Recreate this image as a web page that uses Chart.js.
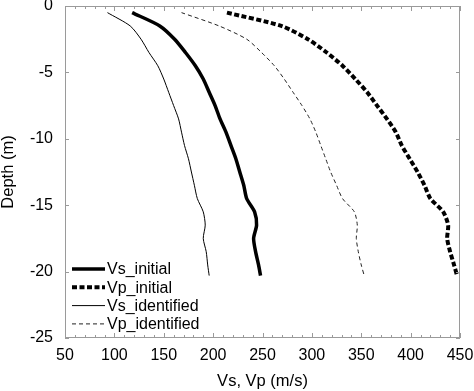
<!DOCTYPE html>
<html>
<head>
<meta charset="utf-8">
<script src="https://cdn.jsdelivr.net/npm/chart.js@4.4.1/dist/chart.umd.min.js"></script>
<style>
  html, body { margin: 0; padding: 0; background: #fff; }
</style>
</head>
<body>
<canvas id="myChart" width="474" height="391"></canvas>
<script>
// depth of each point (m) and velocity profiles (m/s)
const depth        = [-0.5, -1.5, -2.5, -3.5, -4.5, -5.5, -6.5, -7.5, -8.5, -9.5, -10.5, -11.5, -12.5, -13.5, -14.5, -15.5, -16.5, -17.5, -18.5, -19.5, -20.3];
const vsInitial    = [118, 146, 161, 172, 182, 190, 196, 202, 207, 213, 218, 223, 227, 231, 234, 242, 244, 241, 243, 246, 248];
const vpInitial    = [214, 269, 296, 315, 331, 344, 356, 366, 376, 385, 391, 399, 407, 414, 420, 433, 438, 437, 440, 444, 447];
const vsIdentified = [93, 116, 127, 135, 144, 150, 155, 160, 165, 168, 171, 175, 178, 181, 184, 190, 192, 190, 193, 194.5, 196];
const vpIdentified = [168, 206, 234, 249, 262, 272, 281, 290, 298, 304, 309, 314, 319, 325, 331, 343, 346, 345, 347, 350, 353];

const seriesLabels = ['Vs_initial', 'Vp_initial', 'Vs_identified', 'Vp_identified'];

const FONT = '"Liberation Sans", Arial, sans-serif';

function toPoints(values) {
    return values.map((v, i) => ({ x: v, y: depth[i] }));
}

// gray box round the plot with small inward ticks
const framePlugin = {
    id: 'frame',
    afterDatasetsDraw(chart) {
        const { ctx, chartArea: a, scales: { x, y } } = chart;
        ctx.save();
        ctx.strokeStyle = '#9a9a9a';
        ctx.lineWidth = 1;
        ctx.strokeRect(a.left + 0.5, a.top + 0.5, a.width - 1, a.height - 1);
        ctx.beginPath();
        for (let v = x.min; v <= x.max; v += 10) {
            const px = Math.round(x.getPixelForValue(v)) + 0.5;
            const len = v % 50 === 0 ? 5 : 3;
            ctx.moveTo(px, a.bottom); ctx.lineTo(px, a.bottom - len);
            ctx.moveTo(px, a.top); ctx.lineTo(px, a.top + len);
        }
        for (let v = y.max; v >= y.min; v -= 5) {
            const py = Math.round(y.getPixelForValue(v)) + 0.5;
            ctx.moveTo(a.left, py); ctx.lineTo(a.left + 4, py);
            ctx.moveTo(a.right, py); ctx.lineTo(a.right - 4, py);
        }
        ctx.stroke();
        ctx.restore();
    }
};

// legend drawn inside the lower left corner of the plot
const insideLegend = {
    id: 'insideLegend',
    afterDraw(chart) {
        const { ctx, chartArea: a } = chart;
        ctx.save();
        ctx.font = '16px ' + FONT;
        ctx.textBaseline = 'middle';
        chart.data.datasets.forEach((ds, i) => {
            const yy = a.bottom - 69 + i * 18.3;
            ctx.strokeStyle = ds.borderColor;
            ctx.lineWidth = ds.borderWidth;
            ctx.setLineDash(ds.borderDash || []);
            ctx.beginPath();
            ctx.moveTo(a.left + 7, yy);
            ctx.lineTo(a.left + 40, yy);
            ctx.stroke();
            ctx.setLineDash([]);
            ctx.fillStyle = '#000';
            ctx.fillText(ds.label, a.left + 42, yy + 1);
        });
        ctx.restore();
    }
};

const ctx = document.getElementById('myChart').getContext('2d');
new Chart(ctx, {
    type: 'line',
    data: {
        datasets: [{
            label: seriesLabels[0],
            data: toPoints(vsInitial),
            borderColor: '#000',
            borderWidth: 3.5
        }, {
            label: seriesLabels[1],
            data: toPoints(vpInitial),
            borderColor: '#000',
            borderWidth: 4,
            borderDash: [5, 2.5]
        }, {
            label: seriesLabels[2],
            data: toPoints(vsIdentified),
            borderColor: '#000',
            borderWidth: 1
        }, {
            label: seriesLabels[3],
            data: toPoints(vpIdentified),
            borderColor: '#222',
            borderWidth: 1,
            borderDash: [4, 3]
        }]
    },
    options: {
        responsive: false,
        animation: false,
        layout: { padding: 0 },
        elements: { point: { radius: 0 }, line: { tension: 0.25, fill: false } },
        plugins: { legend: { display: false }, tooltip: { enabled: false } },
        scales: {
            x: {
                type: 'linear',
                min: 50,
                max: 450,
                grid: { display: false, drawTicks: false },
                border: { display: false },
                ticks: { stepSize: 50, padding: 8, color: '#000', font: { family: FONT, size: 16 } },
                title: {
                    display: true,
                    text: 'Vs, Vp (m/s)',
                    color: '#000',
                    font: { family: FONT, size: 16.5 },
                    padding: { top: 7, bottom: 0 }
                },
                afterFit(scale) {
                    scale.height = 53;
                    scale.paddingLeft = 0;
                    scale.paddingRight = 14;
                }
            },
            y: {
                type: 'linear',
                min: -25,
                max: 0,
                grid: { display: false, drawTicks: false },
                border: { display: false },
                ticks: { stepSize: 5, padding: 12, color: '#000', font: { family: FONT, size: 16 } },
                title: {
                    display: true,
                    text: 'Depth (m)',
                    color: '#000',
                    font: { family: FONT, size: 16.5, lineHeight: 1 },
                    padding: { top: 0, bottom: 14 }
                },
                afterFit(scale) {
                    scale.width = 65;
                    scale.paddingTop = 6;
                    scale.paddingBottom = 0;
                }
            }
        }
    },
    plugins: [framePlugin, insideLegend]
});
</script>
</body>
</html>
